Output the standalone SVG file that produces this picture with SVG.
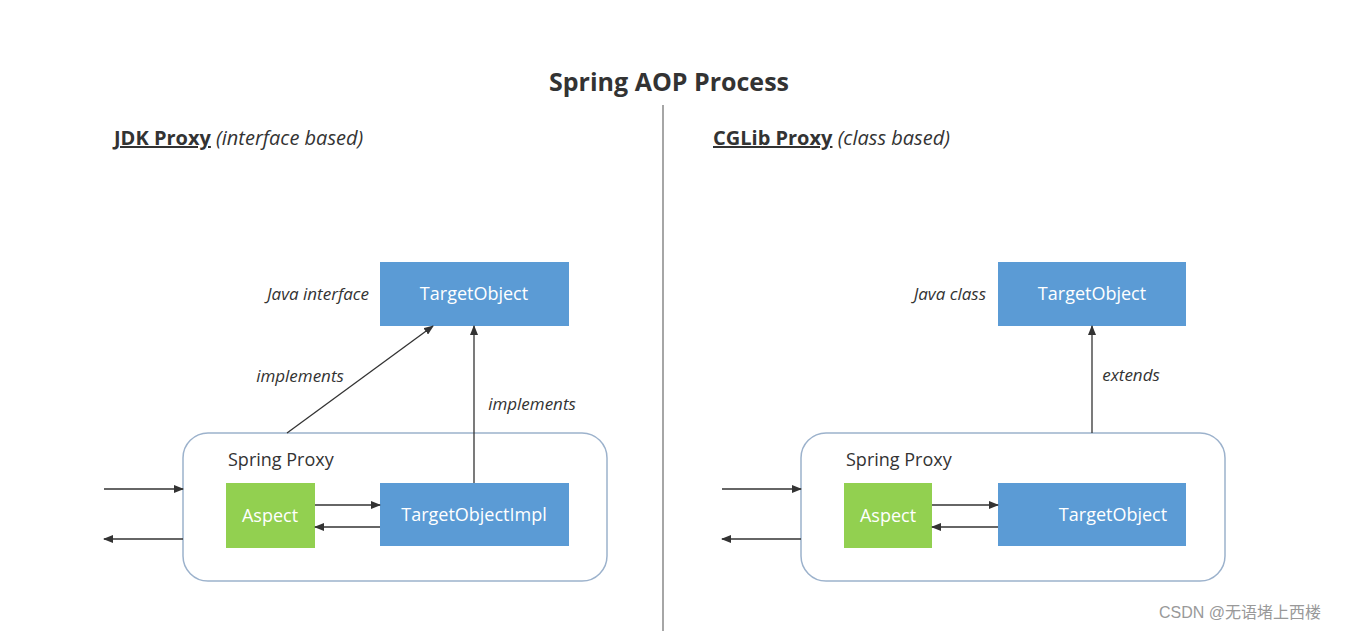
<svg xmlns="http://www.w3.org/2000/svg" width="1351" height="631" viewBox="0 0 1351 631">
<style>
text{font-family:"Open Sans","Liberation Sans",sans-serif;fill:#333}
.blue{fill:#5B9BD5}
.green{fill:#92D050}
.bt{fill:#fff;font-size:18px;text-anchor:middle}
.it{font-style:italic;font-size:17px}
.hd{font-size:20px}
.proxy{fill:#fff;stroke:#9cb2cc;stroke-width:1.5}
.ln{stroke:#333;stroke-width:1.3;fill:none;marker-end:url(#ah)}
</style>
<defs><marker id="ah" markerWidth="10" markerHeight="8" refX="9" refY="4" orient="auto" markerUnits="userSpaceOnUse"><path d="M0,0L10,4L0,8z" fill="#333"/></marker></defs>
<rect width="1351" height="631" fill="#fff"/>
<text x="669" y="91" font-size="25" font-weight="bold" text-anchor="middle" fill="#222">Spring AOP Process</text>
<line x1="663" y1="105" x2="663" y2="631" stroke="#888" stroke-width="1.5"/>
<text x="114" y="145" class="hd"><tspan font-weight="bold" text-decoration="underline">JDK Proxy</tspan> <tspan font-style="italic">(interface based)</tspan></text>
<text x="713" y="145" class="hd"><tspan font-weight="bold" text-decoration="underline">CGLib Proxy</tspan> <tspan font-style="italic">(class based)</tspan></text>
<g id="left-proxy"><rect class="proxy" x="183" y="433" width="424" height="148" rx="25"/><text x="228" y="466" font-size="18">Spring Proxy</text></g>
<g id="left-target"><rect class="blue" x="380" y="262" width="189" height="64"/><text class="bt" x="474" y="300">TargetObject</text><text class="it" x="369" y="300" text-anchor="end">Java interface</text></g>
<g id="left-aspect"><rect class="green" x="226" y="483" width="89" height="65"/><text class="bt" x="270" y="522">Aspect</text></g>
<g id="left-impl"><rect class="blue" x="380" y="483" width="189" height="63"/><text class="bt" x="474" y="521">TargetObjectImpl</text></g>
<g id="right-proxy"><rect class="proxy" x="801" y="433" width="424" height="148" rx="25"/><text x="846" y="466" font-size="18">Spring Proxy</text></g>
<g id="right-target"><rect class="blue" x="998" y="262" width="188" height="64"/><text class="bt" x="1092" y="300">TargetObject</text><text class="it" x="986" y="300" text-anchor="end">Java class</text></g>
<g id="right-aspect"><rect class="green" x="844" y="483" width="88" height="65"/><text class="bt" x="888" y="522">Aspect</text></g>
<g id="right-impl"><rect class="blue" x="998" y="483" width="188" height="63"/><text class="bt" x="1113" y="521">TargetObject</text></g>
<g id="connectors">
<line class="ln" x1="104" y1="489" x2="183" y2="489"/>
<line class="ln" x1="183" y1="539" x2="104" y2="539"/>
<line class="ln" x1="315" y1="505" x2="380" y2="505"/>
<line class="ln" x1="380" y1="527" x2="315" y2="527"/>
<line class="ln" x1="287" y1="433" x2="433" y2="326"/>
<line class="ln" x1="474" y1="483" x2="474" y2="326"/>
<line class="ln" x1="722" y1="489" x2="801" y2="489"/>
<line class="ln" x1="801" y1="539" x2="722" y2="539"/>
<line class="ln" x1="932" y1="505" x2="998" y2="505"/>
<line class="ln" x1="998" y1="527" x2="932" y2="527"/>
<line class="ln" x1="1092" y1="433" x2="1092" y2="326"/>
<text class="it" x="300" y="382" text-anchor="middle" font-size="16">implements</text>
<text class="it" x="532" y="410" text-anchor="middle" font-size="16">implements</text>
<text class="it" x="1131" y="381" text-anchor="middle" font-size="16">extends</text>
</g>
<text x="1240" y="618" font-size="16" text-anchor="middle" fill="#999" style="fill:#999;font-family:'Liberation Sans','Noto Sans CJK SC',sans-serif">CSDN @无语堵上西楼</text>
</svg>
